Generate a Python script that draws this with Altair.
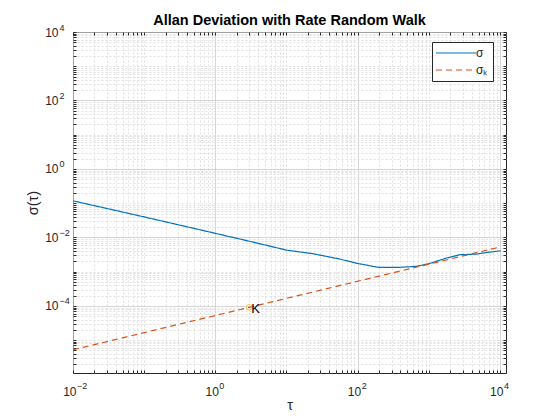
import altair as alt
import pandas as pd

# ---------------- data ----------------
chart_title = "Allan Deviation with Rate Random Walk"
x_title = "τ"
y_title = "σ(τ)"
series_names = ["σ", "σₖ"]
series_colors = ["#0072BD", "#D95319"]
marker_color = "#EDB120"

# Allan deviation curve
tau = [0.01, 0.1, 1, 3, 10, 23.6, 56, 100, 165, 204, 352, 671, 1033,
       1778, 2729, 4677, 6457, 10200]
sigma = [0.1175, 0.0398, 0.0132, 0.00776, 0.00427, 0.00335, 0.00234,
         0.00174, 0.00143, 0.00133, 0.00133, 0.00143, 0.00174, 0.00251,
         0.00313, 0.00327, 0.00363, 0.00407]

# Rate random walk line (slope +1/2)
tau_k = [0.01, 3, 10200]
sigma_k = [5.25e-6, 9.1e-5, 5.3e-3]

# K marker
k_tau = [3]
k_sigma = [9.1e-5]
k_label = ["K"]

# axes
x_domain = [0.01, 12150]
y_domain = [1.1e-6, 1e4]
tick_base = "10"
x_major = [0.01, 1, 100, 10000]
x_major_exp = ["−2", "0", "2", "4"]
y_major = [1e-4, 1e-2, 1, 100, 10000]
y_major_exp = ["−4", "−2", "0", "2", "4"]


def minor_ticks(lo, hi, kmin, kmax):
    vals = []
    for k in range(kmin, kmax + 1):
        for m in range(1, 10):
            v = float(f"{m}e{k}")
            if lo <= v <= hi:
                vals.append(v)
    return vals


x_ticks = minor_ticks(x_domain[0], x_domain[1], -2, 4)
y_ticks = minor_ticks(y_domain[0], y_domain[1], -6, 4)


def vlist(vals):
    return "[" + ",".join(repr(float(v)) for v in vals) + "]"


def exp_expr(vals, labels):
    parts = [f"datum.value == {repr(float(v))} ? '{l}'" for v, l in zip(vals, labels)]
    return " : ".join(parts) + " : ''"


def base_expr(vals):
    return f"indexof({vlist(vals)}, datum.value) >= 0 ? '{tick_base}' : ''"


FONT = "Liberation Sans"
AX = "#262626"

common = dict(domain=False, labelFont=FONT, labelColor=AX, labelFlush=False,
              labelOverlap=False, labelBound=False)


def grid_base_axis(orient, vals, majors, **kw):
    test = f"indexof({vlist(majors)}, datum.value) >= 0"
    return alt.Axis(
        orient=orient, values=vals, labelExpr=base_expr(majors),
        grid=True,
        gridDash={"condition": {"test": test, "value": [1, 0]}, "value": [2, 2]},
        gridColor={"condition": {"test": test, "value": "#c9c9c9"}, "value": "#e1e1e1"},
        gridWidth=1, ticks=False, tickSize=0, labelFontSize=12,
        titleFont=FONT, titleFontSize=14.5, titleFontWeight="normal", titleColor=AX,
        **common, **kw)


def exp_axis(orient, vals, majors, exps, **kw):
    return alt.Axis(
        orient=orient, values=vals, labelExpr=exp_expr(majors, exps),
        grid=False, ticks=False, tickSize=0, labelFontSize=9, title=None,
        **common, **kw)


def tick_axis(orient, vals):
    return alt.Axis(
        orient=orient, values=vals, labels=False, grid=False, ticks=True,
        tickSize={"expr": "-3"}, tickColor=AX, tickWidth=1, domain=False, title=None)


x_scale = alt.Scale(type="log", domain=x_domain, nice=False)
y_scale = alt.Scale(type="log", domain=y_domain, nice=False)

lines = pd.concat([
    pd.DataFrame({"tau": tau, "sigma": sigma, "series": series_names[0]}),
    pd.DataFrame({"tau": tau_k, "sigma": sigma_k, "series": series_names[1]}),
])
kdf = pd.DataFrame({"tau": k_tau, "sigma": k_sigma, "label": k_label})

legend = alt.Legend(
    title=None,
    orient="none",
    legendX=359,
    legendY=10,
    symbolType="M-4,0H4",
    symbolSize=100,
    symbolOffset=13,
    symbolStrokeWidth=1.2,
    labelFont=FONT,
    labelFontSize=12,
    labelColor=AX,
    labelOffset=14,
    padding=5,
    rowPadding=5,
    strokeColor=AX,
    fillColor="white",
    cornerRadius=0,
)

line_layer = alt.Chart(lines).mark_line(strokeWidth=1.2, clip=True).encode(
    x=alt.X("tau:Q", scale=x_scale, title=x_title,
            axis=grid_base_axis("bottom", x_ticks, x_major, labelAlign="right",
                                labelOffset=3, labelPadding=13, labelBaseline="top",
                                titlePadding=1)),
    y=alt.Y("sigma:Q", scale=y_scale, title=y_title,
            axis=grid_base_axis("left", y_ticks, y_major, labelAlign="right",
                                labelPadding=15, labelBaseline="middle",
                                titlePadding=4)),
    color=alt.Color("series:N", scale=alt.Scale(domain=series_names, range=series_colors), legend=legend),
    strokeDash=alt.StrokeDash("series:N", scale=alt.Scale(domain=series_names, range=[[1, 0], [6, 4]]), legend=legend),
    order=alt.Order("tau:Q"),
)

point_layer = alt.Chart(kdf).mark_point(shape="circle", filled=False, size=36, strokeWidth=1, color=marker_color).encode(
    x=alt.X("tau:Q", scale=x_scale,
            axis=exp_axis("bottom", x_ticks, x_major, x_major_exp, labelAlign="left",
                          labelOffset=3.5, labelPadding=8.5, labelBaseline="top")),
    y=alt.Y("sigma:Q", scale=y_scale,
            axis=exp_axis("left", y_ticks, y_major, y_major_exp, labelAlign="left",
                          labelOffset=-5, labelPadding=14, labelBaseline="middle")),
)

text_layer = alt.Chart(kdf).mark_text(align="left", baseline="middle", dx=2, dy=2, font=FONT, fontSize=13, color="black").encode(
    x=alt.X("tau:Q", scale=x_scale, axis=tick_axis("top", x_ticks)),
    y=alt.Y("sigma:Q", scale=y_scale, axis=tick_axis("right", y_ticks)),
    text="label:N",
)

tick_layer = alt.Chart(kdf).mark_point(opacity=0).encode(
    x=alt.X("tau:Q", scale=x_scale, axis=tick_axis("bottom", x_ticks)),
    y=alt.Y("sigma:Q", scale=y_scale, axis=tick_axis("left", y_ticks)),
)

chart = alt.layer(line_layer, point_layer, text_layer, tick_layer).resolve_axis(
    x="independent", y="independent"
).properties(
    width=433,
    height=341,
    title=alt.TitleParams(text=chart_title, font=FONT, fontSize=14.5, fontWeight="bold",
                          color="black", offset=-5, anchor="middle", frame="group"),
    autosize=alt.AutoSizeParams(type="none"),
    padding={"left": 65, "top": 24, "right": 46, "bottom": 39},
    background="white",
).configure_view(stroke=AX, strokeWidth=1)

chart.save("out.html", embed_options={"renderer": "svg", "actions": False})
